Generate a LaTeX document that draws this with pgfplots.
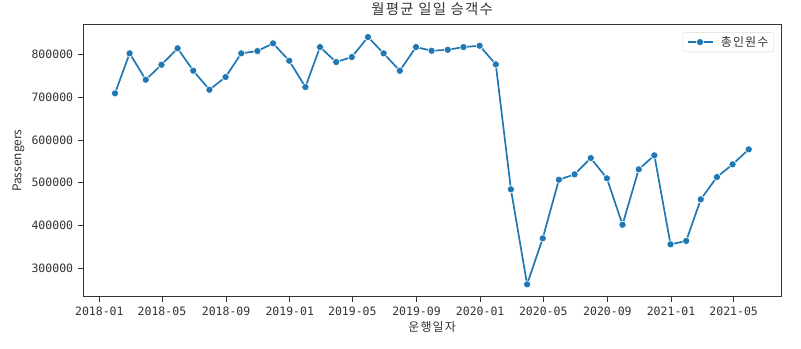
\documentclass[border=0pt]{standalone}
\usepackage{fontspec}
\setmainfont{Noto Sans CJK KR}
\newfontfamily\spaced[LetterSpace=9]{Noto Sans CJK KR}
\newfontfamily\tickfont{DejaVu Sans Mono}
\usepackage{pgfplots}
\usepackage{pgfplotstable}
\pgfplotsset{compat=1.18}
\definecolor{tabblue}{HTML}{1F77B4}
\definecolor{axgray}{HTML}{333333}
\pgfplotstableread{
d v
30 708900
58 802300
89 740700
119 775700
150 814000
180 761700
211 717300
242 747000
272 802300
303 807700
333 825700
364 785000
395 723600
423 817000
454 782000
484 793700
515 840400
545 802300
576 761700
607 817000
637 808400
668 810700
698 817000
729 820100
760 776600
789 484600
820 262600
850 370100
881 507000
911 519600
942 557700
973 510300
1003 401900
1034 531300
1064 564000
1095 356100
1125 364000
1153 461200
1184 513300
1214 543000
1245 578000
}\datatable
\begin{document}
\begin{tikzpicture}
\path[use as bounding box] (0,0) rectangle (801bp,349bp);
\begin{axis}[
  at={(83.3bp,52.3bp)}, anchor=south west,
  scale only axis,
  width=697.7bp, height=272bp,
  xmin=-30.8, xmax=1306.8,
  ymin=233710, ymax=869290,
  scaled y ticks=false, scaled x ticks=false,
  axis line style={axgray, line width=0.8bp},
  tick align=outside, tick pos=left,
  major tick length=5bp,
  every tick/.style={axgray, line width=0.8bp},
  xtick={0,120,243,365,485,608,730,851,974,1096,1216},
  xticklabels={2018-01,2018-05,2018-09,2019-01,2019-05,2019-09,2020-01,2020-05,2020-09,2021-01,2021-05},
  ytick={300000,400000,500000,600000,700000,800000},
  yticklabels={300000,400000,500000,600000,700000,800000},
  tick label style={font=\tickfont\fontsize{11.5bp}{13bp}\selectfont, text=axgray},
  xticklabel style={inner sep=0pt, yshift=-5bp},
  yticklabel style={inner sep=0pt, xshift=-5bp},
  title={월평균 일일 승객수},
  title style={font=\spaced\fontsize{14.4bp}{16bp}\selectfont, text=axgray, at={(axis description cs:0.5,1.036)}, anchor=center},
  xlabel={운행일자},
  ylabel={Passengers},
  every axis x label/.style={at={(axis description cs:0.5,-0.1117)}, anchor=center, font=\spaced\fontsize{12bp}{14bp}\selectfont, text=axgray},
  every axis y label/.style={at={(axis description cs:-0.093,0.5)}, rotate=90, anchor=center, font=\fontsize{12bp}{14bp}\selectfont, text=axgray},
  legend style={at={(1,1)}, anchor=north east, xshift=-7bp, yshift=-7.5bp,
    draw=black!15, rounded corners=2.5bp, fill=white,
    font=\spaced\fontsize{12bp}{14bp}\selectfont, text=axgray,
    inner xsep=4bp, inner ysep=2.5bp,
    nodes={inner sep=1.5bp},
    /tikz/every odd column/.append style={column sep=6bp}},
  legend cell align=left,
  legend image code/.code={
    \draw[mark repeat=2,mark phase=2] plot coordinates {(0bp,0bp) (12.5bp,0bp) (25bp,0bp)};},
]
\addplot[color=tabblue, line width=1.7bp,
  mark=*, mark size=3.6bp,
  mark options={fill=tabblue, draw=white, line width=0.6bp}]
  table[x=d, y=v] {\datatable};
\addlegendentry{총인원수}
\end{axis}
\end{tikzpicture}
\end{document}
